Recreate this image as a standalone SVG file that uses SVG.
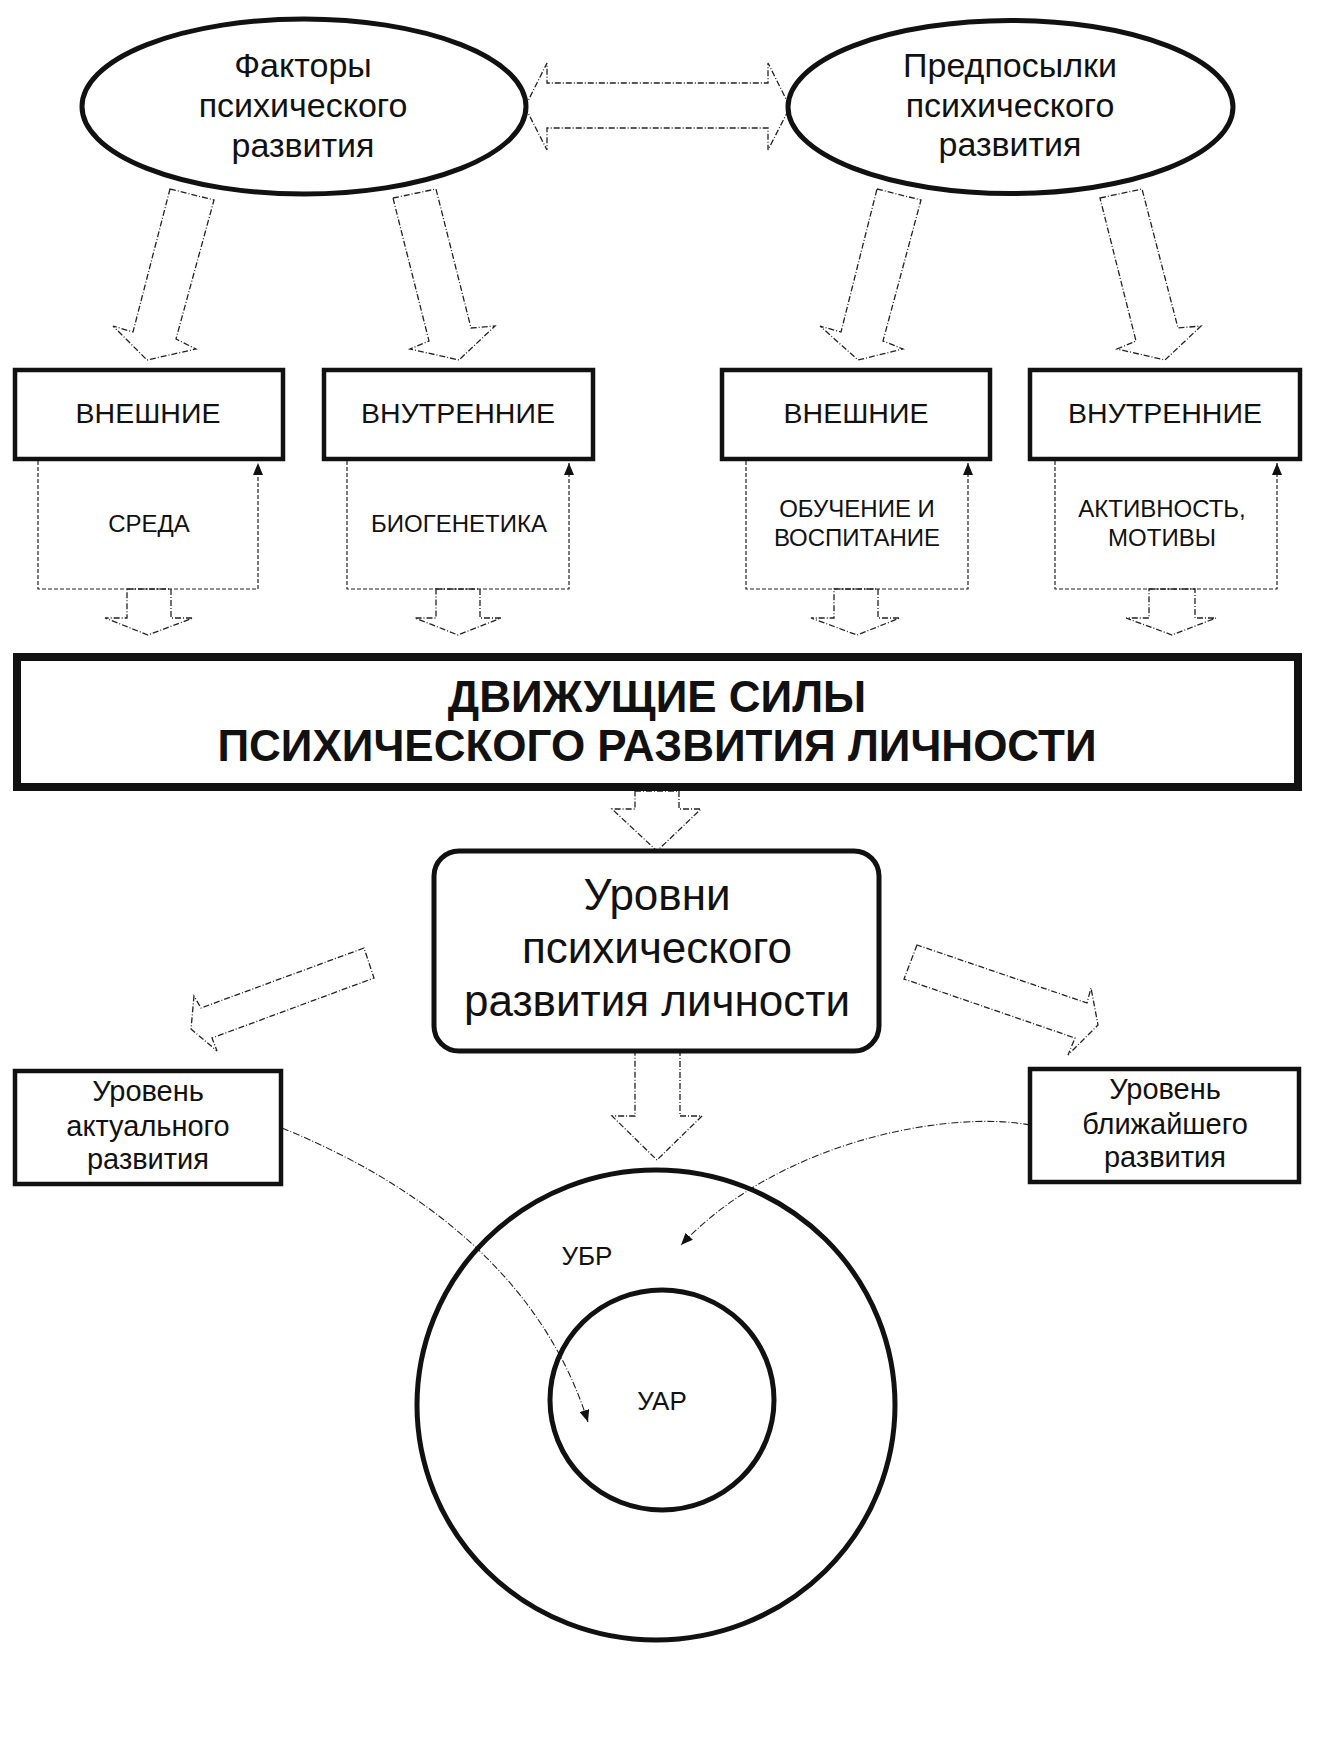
<svg xmlns="http://www.w3.org/2000/svg" width="1322" height="1746" viewBox="0 0 1322 1746">
<style>
text{font-family:"Liberation Sans",Arial,sans-serif;fill:#111;text-anchor:middle}
.oval{fill:#fff;stroke:#111;stroke-width:5}
.box{fill:#fff;stroke:#111;stroke-width:4.5}
.hollow{fill:none;stroke:#222;stroke-width:1.3;stroke-dasharray:6 2 1 2;stroke-linejoin:miter}
.loop{fill:none;stroke:#222;stroke-width:1.2;stroke-dasharray:4 2}
.curve{fill:none;stroke:#222;stroke-width:1.1;stroke-dasharray:7 2 1 2}
.ring{fill:none;stroke:#111;stroke-width:5}
.t34{font-size:34px}
.t28{font-size:28.5px}
.t24{font-size:24px}
.t43{font-size:44px}
.t29{font-size:29px}
.t26{font-size:26px}
.title{font-size:44px;font-weight:bold}
</style>
<defs>
<marker id="ah" markerUnits="userSpaceOnUse" markerWidth="12" markerHeight="10" refX="12" refY="5" orient="auto">
<path d="M0,0 L12,5 L0,10 z" fill="#111"/>
</marker>
</defs>

<g id="connectors">
<polygon class="hollow" points="525,107 547,63 547,83 768,83 768,63 790,107 768,150 768,128 547,128 547,150"/>
<polygon class="hollow" points="170,189 214,200 176,339 196,349 147,360 113,326 133,332"/>
<polygon class="hollow" points="393,198 436,189 471,328 495,326 459,360 410,349 429,341"/>
<polygon class="hollow" points="877,189 921,200 883,341 903,349 858,360 820,326 841,332"/>
<polygon class="hollow" points="1100,198 1142,189 1178,328 1201,326 1165,360 1117,349 1136,341"/>
<path class="loop" d="M38,461 V589 H258 V463" marker-end="url(#ah)"/>
<path class="loop" d="M347,461 V589 H569 V463" marker-end="url(#ah)"/>
<path class="loop" d="M746,461 V589 H968 V463" marker-end="url(#ah)"/>
<path class="loop" d="M1055,461 V589 H1277 V463" marker-end="url(#ah)"/>
<polygon class="hollow" points="127,589 171,589 171,618 193,618 148,635 105,618 127,618"/>
<polygon class="hollow" points="436,589 480,589 480,618 501,618 458,635 415,618 436,618"/>
<polygon class="hollow" points="834,589 878,589 878,618 900,618 857,635 811,618 834,618"/>
<polygon class="hollow" points="1149,589 1195,589 1195,618 1216,618 1172,635 1126,618 1149,618"/>
<polygon class="hollow" points="635,791 679,791 679,809 701,809 657,851 612,809 635,809"/>
<polygon class="hollow" points="635,1051 680,1051 680,1116 702,1116 657,1160 612,1116 635,1116"/>
<polygon class="hollow" points="364,948 201,1008 194,996 191,1029 217,1051 212,1038 374,978"/>
<polygon class="hollow" points="917,945 904,979 1075,1038 1068,1055 1098,1025 1091,988 1087,1003"/>
<path class="curve" d="M282,1128 C410,1180 540,1270 588,1422" marker-end="url(#ah)"/>
<path class="curve" d="M1030,1125 C950,1110 780,1140 681,1245" marker-end="url(#ah)"/>
</g>

<g id="factors">
<ellipse class="oval" cx="304" cy="106.5" rx="222" ry="87.5"/>
<text class="t34" x="303" y="77">Факторы</text>
<text class="t34" x="303" y="117">психического</text>
<text class="t34" x="303" y="157">развития</text>
</g>

<g id="prerequisites">
<ellipse class="oval" cx="1010.5" cy="107" rx="222.5" ry="86.5"/>
<text class="t34" x="1010" y="77">Предпосылки</text>
<text class="t34" x="1010" y="117">психического</text>
<text class="t34" x="1010" y="156">развития</text>
</g>

<g id="factors-external">
<rect class="box" x="15" y="370" width="268" height="89"/>
<text class="t28" x="148" y="423">ВНЕШНИЕ</text>
<text class="t24" x="149" y="532">СРЕДА</text>
</g>

<g id="factors-internal">
<rect class="box" x="324" y="370" width="269" height="89"/>
<text class="t28" x="458" y="423">ВНУТРЕННИЕ</text>
<text class="t24" x="459" y="532">БИОГЕНЕТИКА</text>
</g>

<g id="prereq-external">
<rect class="box" x="722" y="370" width="268" height="89"/>
<text class="t28" x="856" y="423">ВНЕШНИЕ</text>
<text class="t24" x="857" y="517">ОБУЧЕНИЕ И</text>
<text class="t24" x="857" y="546">ВОСПИТАНИЕ</text>
</g>

<g id="prereq-internal">
<rect class="box" x="1030" y="370" width="270" height="89"/>
<text class="t28" x="1165" y="423">ВНУТРЕННИЕ</text>
<text class="t24" x="1162" y="517">АКТИВНОСТЬ,</text>
<text class="t24" x="1162" y="546">МОТИВЫ</text>
</g>

<g id="driving-forces">
<rect x="17" y="657" width="1281" height="130" fill="#fff" stroke="#111" stroke-width="8"/>
<text class="title" x="657" y="712">ДВИЖУЩИЕ СИЛЫ</text>
<text class="title" x="657" y="761">ПСИХИЧЕСКОГО РАЗВИТИЯ ЛИЧНОСТИ</text>
</g>

<g id="levels">
<rect x="434" y="851" width="445" height="200" rx="25" ry="25" fill="#fff" stroke="#111" stroke-width="5"/>
<text class="t43" x="657" y="910">Уровни</text>
<text class="t43" x="657" y="963">психического</text>
<text class="t43" x="657" y="1016">развития личности</text>
</g>

<g id="actual-level">
<rect class="box" x="15" y="1071" width="266" height="113"/>
<text class="t29" x="148" y="1101">Уровень</text>
<text class="t29" x="148" y="1136">актуального</text>
<text class="t29" x="148" y="1169">развития</text>
</g>

<g id="nearest-level">
<rect class="box" x="1030" y="1069" width="269" height="113"/>
<text class="t29" x="1165" y="1099">Уровень</text>
<text class="t29" x="1165" y="1134">ближайшего</text>
<text class="t29" x="1165" y="1167">развития</text>
</g>

<g id="zpd-circle">
<ellipse class="ring" cx="656" cy="1405" rx="239" ry="235"/>
<text class="t26" x="587" y="1265">УБР</text>
</g>

<g id="actual-circle">
<ellipse class="ring" cx="662" cy="1400" rx="112" ry="110"/>
<text class="t26" x="662" y="1410">УАР</text>
</g>
</svg>
